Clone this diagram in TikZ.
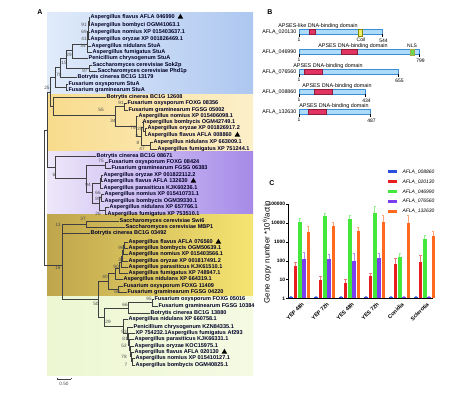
\documentclass[tikz,border=0pt]{standalone}
\usepackage{fontspec}
\setmainfont{Liberation Sans}
\usetikzlibrary{shapes.geometric}
\definecolor{blueL}{HTML}{E0EBFA}
\definecolor{blueR}{HTML}{AEC7F0}
\definecolor{yelL}{HTML}{F8DB8C}
\definecolor{yelR}{HTML}{FCF0CA}
\definecolor{purL}{HTML}{EEE8FA}
\definecolor{purR}{HTML}{A68AE8}
\definecolor{oliL}{HTML}{BFA54C}
\definecolor{oliR}{HTML}{F6E572}
\definecolor{grnL}{HTML}{EDF7D2}
\definecolor{grnR}{HTML}{F5FAE3}
\definecolor{barfill}{HTML}{AEDBF7}
\definecolor{barline}{HTML}{3A8ED6}
\definecolor{domred}{HTML}{E23462}
\definecolor{coilyel}{HTML}{EEF066}
\definecolor{nlsgrn}{HTML}{6AD64A}
\definecolor{c0}{HTML}{2A4FE0}
\definecolor{c1}{HTML}{E81E1E}
\definecolor{c2}{HTML}{44E83A}
\definecolor{c3}{HTML}{7B3FF0}
\definecolor{c4}{HTML}{FF6A1E}
\begin{document}
\begin{tikzpicture}[x=1pt,y=-1pt,
  leaf/.style={anchor=west,inner sep=0.4pt,font=\fontsize{5.55}{6}\selectfont\bfseries,text=black!85!blue},
  bs/.style={inner sep=0pt,font=\fontsize{4.7}{5}\selectfont,text=black!70},
  br/.style={draw=black!75,line width=0.5pt},
  tri/.style={regular polygon,regular polygon sides=3,fill=black,inner sep=0pt,minimum size=6.5pt},
  panel/.style={inner sep=0pt,font=\fontsize{7}{8}\selectfont\bfseries},
  gene/.style={anchor=east,inner sep=0.5pt,font=\fontsize{5.3}{6}\selectfont},
  dom/.style={inner sep=0.5pt,font=\fontsize{5.4}{6}\selectfont},
  num/.style={inner sep=0.3pt,font=\fontsize{5}{5}\selectfont},
  tick/.style={anchor=east,inner sep=0.3pt,font=\fontsize{4.9}{5}\selectfont\bfseries},
  xlab/.style={anchor=north east,rotate=45,inner sep=0.3pt,font=\fontsize{5.5}{6}\selectfont\bfseries},
  leg/.style={anchor=west,inner sep=0.3pt,font=\fontsize{5}{5}\selectfont\itshape}]
\fill[white] (0,0) rectangle (474,395);
\useasboundingbox (0,0) rectangle (474,395);

% panel A: clade backgrounds
\shade[left color=blueL,right color=blueR] (47,13) rectangle (253,94.5);
\shade[left color=yelL,right color=yelR] (47,94.5) rectangle (253,152);
\shade[left color=purL,right color=purR] (47,152) rectangle (253,215);
\shade[left color=oliL,right color=oliR] (47,215) rectangle (253,297);
\shade[left color=grnL,right color=grnR] (47,297) rectangle (253,375);
\node[panel] (pA) at (40,12) {A};

% leaves
\foreach \n/\x/\y/\t in {
  1/90/17/Aspergillus flavus AFLA 046990,
  2/90/25/Aspergillus bombyci OGM41063.1,
  3/90/32/Aspergillus nomius XP 015403637.1,
  4/90/39/Aspergillus oryzae XP 001826469.1,
  5/91/46/Aspergillus nidulans StuA,
  6/92/52/Aspergillus fumigatus StuA,
  7/88/58/Penicillium chrysogenum StuA,
  8/92/65/Saccharomyces cerevisiae Sok2p,
  9/97/71/Saccharomyces cerevisiae Phd1p,
  10/77/77/Botrytis cinerea BC1G 13179,
  11/68/84/Fusarium oxysporum StuA,
  12/68/90/Fusarium graminearum StuA,
  13/106/97/Botrytis cinerea BC1G 12608,
  14/127/103/Fusarium oxysporum FOXG 08356,
  15/128/110/Fusarium graminearum FGSG 05002,
  16/138/116/Aspergillus nomius XP 015406098.1,
  17/142/122/Aspergillus bombycis OGM42749.1,
  18/147/128/Aspergillus oryzae XP 001826917.2,
  19/147/135/Aspergillus flavus AFLA 008860,
  20/153/142/Aspergillus nidulans XP 663009.1,
  21/157/149/Aspergillus fumigatus XP 751244.1,
  22/96/156/Botrytis cinerea BC1G 08671,
  23/108/162/Fusarium oxysporum FOXG 08424,
  24/111/168/Fusarium graminearum FGSG 06383,
  25/103/175/Aspergillus oryzae XP 001822112.2,
  26/103/181/Aspergillus flavus AFLA 132630,
  27/103/188/Aspergillus parasiticus KJK60236.1,
  28/104/194/Aspergillus nomius XP 015410731.1,
  29/104/201/Aspergillus bombycis OGM39330.1,
  30/109/207/Aspergillus nidulans XP 657766.1,
  31/107/214/Aspergillus fumigatus XP 753510.1,
  32/119/221/Saccharomyces cerevisiae Swi6,
  33/125/227/Saccharomyces cerevisiae MBP1,
  34/90/233/Botrytis cinerea BC1G 03492,
  35/128/242/Aspergillus flavus AFLA 076560,
  36/128/248/Aspergillus bombycis OGM50639.1,
  37/128/254/Aspergillus nomius XP 015403566.1,
  38/128/261/Aspergillus oryzae XP 001817491.2,
  39/128/267/Aspergillus parasiticus KJK61510.1,
  40/128/273/Aspergillus fumigatus XP 748947.1,
  41/123/279/Aspergillus nidulans XP 664319.1,
  42/123/286/Fusarium oxysporum FOXG 11409,
  43/127/292/Fusarium graminearum FGSG 04220,
  44/154/299/Fusarium oxysporum FOXG 05016,
  45/158/306/Fusarium graminearum FGSG 10384,
  46/150/313/Botrytis cinerea BC1G 13880,
  47/128/319/Aspergillus nidulans XP 660758.1,
  48/133/327/Penicillium chrysogenum KZN84335.1,
  49/135/333/XP 754232.1Aspergillus fumigatus Af293,
  50/134/339/Aspergillus parasiticus KJK66331.1,
  51/134/346/Aspergillus oryzae KOC15975.1,
  52/134/352/Aspergillus flavus AFLA 020130,
  53/135/358/Aspergillus nomius XP 015410127.1,
  54/135/365/Aspergillus bombycis OGM40825.1}
  {\coordinate (l\n) at (\x,\y);
   \node[leaf] (t\n) at (l\n) {\t};}
\foreach \n in {1,19,26,35,52}
  \node[tri] (tri\n) at ([xshift=5pt]t\n.east) {};

% inner nodes of the tree
\foreach \n/\x/\y in {b1/89/21,b2/88.5/26,b3/88/31,b4/87.5/37,b5/87/44,b6/72/50,
  b7/89/68,b8/66/58,b9/60/67,b10/66/87,b11/55/77,
  y1/124/106,ya/145/131,yb/143/127,yc/150/145,yd/141/136,ye/136/126,y3/115/115,
  y4/53/106,n25/50/92,
  p1/105/165,pa/101/178,pb/100/183,pc/101/197,pd/105/210,pe/99/203,pf/92/192,
  p4/86/178,p5/55/167,t1/47/130,
  o1/86/224,o2/62/229,oa/124/245,ob/123/250,oc/122/256,od/121/262,oe/119/268,
  of/115/273,og/118/289,oh/108/281,
  g1/152/302,g2/128/308,ga/132/361,gb/131/356,gc/130/350,gd/129/345,ge/128/339,
  gf/127/333,gg/123/326,gh/104/317,n50/98/299,t2/62/265,root/44/198}
  \coordinate (\n) at (\x,\y);

% branches
\foreach \p/\c in {b1/l1,b1/l2,b2/b1,b2/l3,b3/b2,b3/l4,b4/b3,b4/l5,b5/b4,b5/l6,
  b6/b5,b6/l7,b7/l8,b7/l9,b8/b6,b8/b7,b9/b8,b9/l10,b10/l11,b10/l12,b11/b9,b11/b10,
  y1/l14,y1/l15,ya/l18,ya/l19,yb/l17,yb/ya,yc/l20,yc/l21,yd/yb,yd/yc,ye/l16,ye/yd,
  y3/y1,y3/ye,y4/l13,y4/y3,n25/b11,n25/y4,
  p1/l23,p1/l24,pa/l25,pa/l26,pb/pa,pb/l27,pc/l28,pc/l29,pd/l30,pd/l31,pe/pc,pe/pd,
  pf/pb,pf/pe,p4/p1,p4/pf,p5/l22,p5/p4,t1/n25,t1/p5,
  o1/l32,o1/l33,o2/o1,o2/l34,oa/l35,oa/l36,ob/oa,ob/l37,oc/ob,oc/l38,od/oc,od/l39,
  oe/od,oe/l40,of/oe,of/l41,og/l42,og/l43,oh/of,oh/og,
  g1/l44,g1/l45,g2/g1,g2/l46,ga/l53,ga/l54,gb/l52,gb/ga,gc/l51,gc/gb,gd/l50,gd/gc,
  ge/l49,ge/gd,gf/l48,gf/ge,gg/l47,gg/gf,gh/g2,gh/gg,n50/oh,n50/gh,t2/o2,t2/n50,
  root/t1,root/t2}
  \draw[br] (\p) |- (\c);

% bootstrap values
\foreach \x/\y/\v [count=\k] in {84/25/91,84/32/69,84/39/41,83/46/34,69/55/29,
  64/63/15,85/71/87,59/75/70,47/88/25,121/103/91,101/110/55,113/121/34,133/128/79,
  140/129/25,137/136/8,138/143/8,142/149/47,101/161/75,54/175/6,88/185/94,98/193/66,
  98/199/85,98/214/26,83/219/37,58/225/13,121/248/96,121/260/37,116/267/90,
  105/277/40,58/268/19,117/292/60,149/299/95,125/305/66,96/304/50,108/322/29,
  124/332/93,125/339/81,124/346/52,124/357/78,126/365/7}
  \node[bs] (bs\k) at (\x,\y) {\v};

% scale bar
\coordinate (sb0) at (57,379);
\coordinate (sb1) at (71,379);
\draw[br] (sb0) -- (sb1);
\draw[br] (sb0) -- ++(0,-1.5) (sb1) -- ++(0,-1.5);
\node[bs] (sbl) at (64,384) {0.50};

% panel B: protein domains
\node[panel] (pB) at (270,12) {B};
\foreach \r/\yc/\xe/\da/\db/\len/\tx/\tt/\nm in {
  1/32/382/309/315/544/318/APSES-like DNA-binding domain/AFLA\_020130,
  2/52/419/341/357/799/353/APSES DNA-binding domain/AFLA\_046990,
  3/72/398/304/322/655/328/APSES DNA-binding domain/AFLA\_076560,
  4/92/365/314/332/434/337/APSES DNA-binding domain/AFLA\_008860,
  5/112/370/308/326/487/334/APSES DNA-binding domain/AFLA\_132630}
  {\filldraw[fill=barfill,draw=barline,line width=0.5pt] (299,{\yc-2.3}) rectangle (\xe,{\yc+2.3});
   \filldraw[fill=domred,draw=domred!60!black,line width=0.4pt] (\da,{\yc-2.3}) rectangle (\db,{\yc+2.3});
   \draw[line width=0.4pt] (299,{\yc+2.3}) -- (299,{\yc+5}) (\xe,{\yc+2.3}) -- (\xe,{\yc+5});
   \node[gene] (gn\r) at (297,\yc) {\nm};
   \node[dom] (dt\r) at (\tx,{\yc-6}) {\tt};
   \node[num] (one\r) at (299,{\yc+8}) {1};
   \node[num] (len\r) at ({\xe+1.5},{\yc+9}) {\len};}
\filldraw[fill=coilyel,draw=olive,line width=0.4pt] (358,29) rectangle (362,36);
\node[num] (coil) at (361,39.5) {Coil};
\filldraw[fill=nlsgrn,draw=coilyel!70!black,line width=0.4pt] (410,49.5) rectangle (414,55);
\node[num] (nls) at (412,46) {NLS};

% panel C: copy numbers, log axis (18.85pt per decade)
\node[panel] (pC) at (272,183) {C};
\foreach \g/\i/\v/\e in {
  0/0/0.08/0.14,0/1/1.71/1.94,0/2/4.06/4.24,0/3/2.12/2.47,0/4/3.53/3.84,
  1/0/0.08/0.14,1/1/1.0/1.18,1/2/4.37/4.5,1/3/2.08/2.35,1/4/3.84/4.03,
  2/0/0.08/0.14,2/1/0.8/1.02,2/2/4.2/4.42,2/3/2.0/2.39,2/4/3.59/3.8,
  3/0/0.08/0.14,3/1/1.2/1.33,3/2/4.54/4.9,3/3/2.14/2.39,3/4/4.06/4.42,
  4/0/0.08/0.14,4/1/1.84/2.12,4/2/2.2/2.39,4/3/0.08/0.14,4/4/4.03/4.42,
  5/0/0.08/0.14,5/1/1.96/2.3,5/2/3.18/3.36,5/3/0.08/0.14,5/4/3.3/3.59}
  {\pgfmathsetmacro\xl{289.3+25*\g+4.3*\i}
   \pgfmathsetmacro\yt{298.5-18.85*\v}
   \pgfmathsetmacro\ye{298.5-18.85*\e}
   \fill[c\i] (\xl,298.5) rectangle ({\xl+3.6},\yt);
   \draw[c\i!60!white,line width=0.5pt] ({\xl+1.8},\yt) -- ({\xl+1.8},\ye)
     ({\xl+0.7},\ye) -- ({\xl+2.9},\ye);}
\draw[line width=0.6pt] (288,204) -- (288,298.5) -- (433,298.5);
\foreach \k/\t in {0/1,1/10,2/100,3/1000,4/10000,5/100000}
  {\draw[line width=0.5pt] (288,{298.5-18.85*\k}) -- ++(-2,0);
   \node[tick] (yt\k) at (285.5,{298.5-18.85*\k}) {\t};}
\foreach \g/\t in {0/YEP 48h,1/YEP 72h,2/YES 48h,3/YES 72h,4/Conidia,5/Sclerotia}
  \node[xlab] (xl\g) at ({301.5+25*\g},301.5) {\t};
\node[rotate=90,inner sep=0pt,font=\fontsize{7.8}{8}\selectfont] (ylab) at (267,252)
  {Gene copy number *10\textsuperscript{6}/actin};
\foreach \i/\nm in {0/008860,1/020130,2/046990,3/076560,4/132630}
  {\fill[c\i] (388,{170.5+9.8*\i}) rectangle (397,{173.5+9.8*\i});
   \node[leg] (lg\i) at (402,{172+9.8*\i}) {AFLA\_\nm};}
\end{tikzpicture}
\end{document}
